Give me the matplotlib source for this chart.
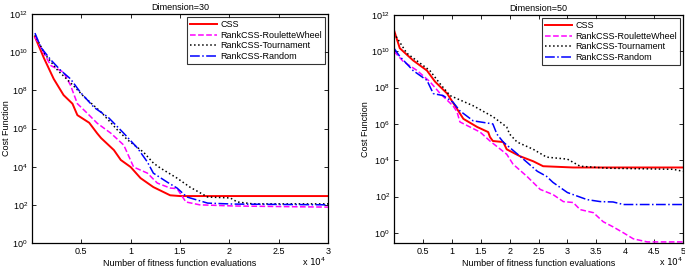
import numpy as np
import matplotlib
matplotlib.use("Agg")
import matplotlib.pyplot as plt

plt.rcParams['font.family'] = ['Liberation Sans', 'DejaVu Sans']
plt.rcParams['font.size'] = 6.5

labels = ['CSS', 'RankCSS-RouletteWheel', 'RankCSS-Tournament', 'RankCSS-Random']
colors = ['#ff0000', '#ff00ff', '#000000', '#0000ff']
styles = ['-', '--', ':', '-.']
widths = [1.4, 1.1, 1.1, 1.1]

# Dimension=30 (x in units of 1e4, y as log10 of cost)
d30_css_x = [0.03, 0.12, 0.22, 0.32, 0.41, 0.46, 0.58, 0.66, 0.70, 0.83, 0.90, 1.0, 1.1, 1.23, 1.4, 1.5, 3.0]
d30_css_y = [10.8, 9.7, 8.6, 7.75, 7.3, 6.7, 6.3, 5.75, 5.5, 4.87, 4.35, 3.98, 3.4, 2.93, 2.5, 2.46, 2.46]
d30_rw_x = [0.03, 0.19, 0.32, 0.39, 0.46, 0.56, 0.66, 0.80, 0.93, 1.03, 1.17, 1.27, 1.40, 1.47, 1.56, 1.70, 2.04, 3.0]
d30_rw_y = [10.8, 9.3, 8.95, 8.27, 7.3, 6.8, 6.28, 5.75, 5.13, 3.98, 3.66, 3.14, 2.88, 2.85, 2.15, 2.0, 1.94, 1.88]
d30_tour_x = [0.03, 0.13, 0.26, 0.39, 0.53, 0.70, 0.87, 0.97, 1.13, 1.23, 1.30, 1.47, 1.60, 1.78, 2.01, 2.08, 2.24, 3.0]
d30_tour_y = [10.9, 9.9, 9.05, 8.4, 7.65, 6.86, 5.9, 5.4, 4.76, 4.19, 3.93, 3.4, 2.93, 2.41, 2.36, 2.15, 2.05, 2.05]
d30_rand_x = [0.03, 0.09, 0.19, 0.29, 0.39, 0.49, 0.63, 0.77, 0.93, 1.07, 1.17, 1.23, 1.37, 1.47, 1.57, 1.78, 2.04, 3.0]
d30_rand_y = [11.0, 10.25, 9.6, 9.05, 8.6, 7.9, 7.1, 6.6, 5.75, 4.97, 4.24, 3.66, 3.19, 2.88, 2.41, 2.09, 2.04, 2.0]

# Dimension=50
d50_css_x = [0.0, 0.1, 0.33, 0.57, 0.71, 0.92, 1.09, 1.2, 1.44, 1.63, 1.66, 1.71, 1.89, 1.95, 2.18, 2.41, 2.58, 3.1, 5.0]
d50_css_y = [11.17, 10.17, 9.5, 8.94, 8.33, 7.67, 6.83, 6.28, 5.83, 5.55, 5.28, 5.06, 5.0, 4.6, 4.22, 3.94, 3.67, 3.6, 3.6]
d50_rw_x = [0.0, 0.16, 0.4, 0.62, 0.8, 1.02, 1.09, 1.14, 1.49, 1.66, 1.95, 2.06, 2.3, 2.53, 2.75, 2.93, 3.1, 3.22, 3.45, 3.62, 3.79, 3.97, 4.14, 4.38, 5.0]
d50_rw_y = [10.0, 9.44, 8.94, 8.33, 7.67, 7.0, 6.67, 6.11, 5.55, 5.06, 4.33, 3.78, 3.11, 2.39, 2.11, 1.72, 1.67, 1.28, 1.11, 0.61, 0.33, 0.0, -0.33, -0.5, -0.5]
d50_tour_x = [0.0, 0.22, 0.62, 0.8, 0.97, 1.37, 1.71, 1.95, 2.0, 2.13, 2.41, 2.64, 3.0, 3.22, 3.69, 4.83, 5.0]
d50_tour_y = [11.0, 9.9, 8.94, 8.2, 7.56, 7.0, 6.4, 5.83, 5.44, 5.0, 4.6, 4.17, 4.06, 3.67, 3.56, 3.5, 3.39]
d50_rand_x = [0.0, 0.1, 0.33, 0.57, 0.68, 0.85, 1.02, 1.14, 1.37, 1.71, 1.78, 1.89, 2.18, 2.48, 2.64, 2.75, 3.0, 3.34, 3.57, 3.79, 3.97, 5.0]
d50_rand_y = [10.17, 9.72, 8.94, 8.4, 7.67, 7.56, 7.2, 6.72, 6.17, 6.0, 5.44, 5.0, 4.22, 3.39, 3.11, 2.78, 2.22, 1.83, 1.72, 1.7, 1.56, 1.56]

panels = [
    ('Dimension=30', 3, [0.5, 1, 1.5, 2, 2.5, 3], ['0.5', '1', '1.5', '2', '2.5', '3'], 0.0,
     [(d30_css_x, d30_css_y), (d30_rw_x, d30_rw_y), (d30_tour_x, d30_tour_y), (d30_rand_x, d30_rand_y)]),
    ('Dimension=50', 5, [0.5, 1, 1.5, 2, 2.5, 3, 3.5, 4, 4.5, 5],
     ['0.5', '1', '1.5', '2', '2.5', '3', '3.5', '4', '4.5', '5'], -0.56,
     [(d50_css_x, d50_css_y), (d50_rw_x, d50_rw_y), (d50_tour_x, d50_tour_y), (d50_rand_x, d50_rand_y)]),
]

W, H = 685.0, 269.0
fig = plt.figure(figsize=(6.85, 2.69), dpi=100)
# axes boxes in pixels: left, right, top, bottom
boxes = [(32, 328, 14, 243), (394, 683, 15, 243)]
ylab_x = [11, 370]
mult_x = [326, 683]

for box, (title, xmax, xt, xtl, ylo, series), yx, mx in zip(boxes, panels, ylab_x, mult_x):
    l, r, t, b = box
    ax = fig.add_axes([l / W, 1 - b / H, (r - l) / W, (b - t) / H])
    for (x, y), lab, c, ls, lw in zip(series, labels, colors, styles, widths):
        ax.plot(np.array(x) * 1e4, 10.0 ** np.array(y), color=c, linestyle=ls, linewidth=lw, label=lab)
    ax.set_yscale('log')
    ax.set_xlim(0, xmax * 1e4)
    ax.set_ylim(10.0 ** ylo, 1e12)
    ax.set_yticks([10.0 ** k for k in range(0, 13, 2)])
    ax.minorticks_off()
    ax.set_xticks([v * 1e4 for v in xt])
    ax.set_xticklabels(xtl)
    ax.tick_params(direction='in', top=True, right=True, length=3, width=0.6, labelsize=6.5, pad=3)
    for s in ax.spines.values():
        s.set_linewidth(0.9)
    ax.set_title(title, fontsize=6.5, pad=3)
    ax.set_xlabel('Number of fitness function evaluations', fontsize=6.5, labelpad=2)
    ax.set_ylabel('Cost Function', fontsize=6.5)
    ax.yaxis.set_label_coords((yx - l) / (r - l), 0.5)
    fig.text(mx / W, 1 - 268 / H, r'x $10^4$', ha='right', va='bottom', fontsize=6.5)
    leg = ax.legend(loc='upper right', fontsize=6.5, frameon=True, fancybox=False,
                    edgecolor='black', handlelength=3.0, handletextpad=0.4,
                    borderaxespad=0.3, labelspacing=0.2, borderpad=0.35)
    leg.get_frame().set_linewidth(0.8)

fig.savefig('out.png', dpi=100)
